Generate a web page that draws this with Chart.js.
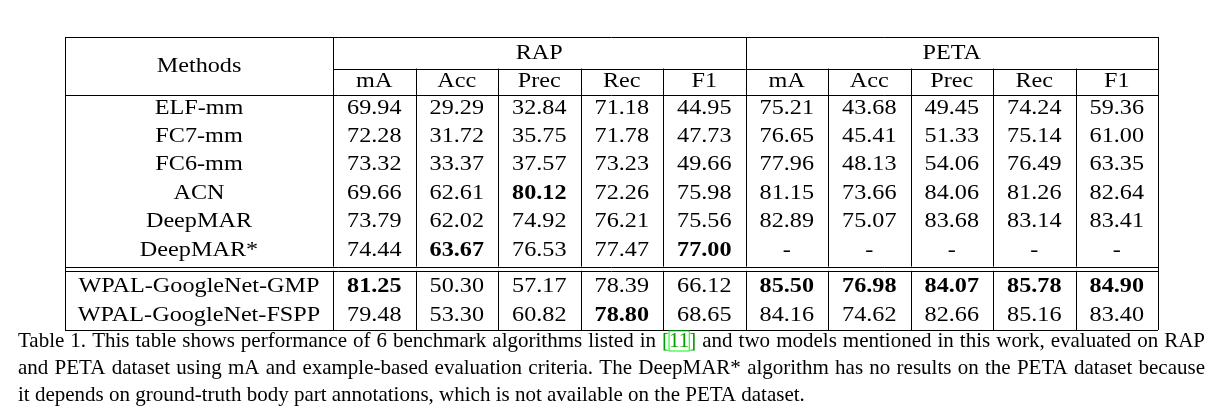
<!DOCTYPE html>
<html>
<head>
<meta charset="utf-8">
<script src="https://cdn.jsdelivr.net/npm/chart.js@4"></script>
<style>
  html, body { margin: 0; padding: 0; background: #fff; }
  #wrap { width: 1223px; height: 414px; }
</style>
</head>
<body>
<div id="wrap"><canvas id="tbl"></canvas></div>
<script>
// table data
const groups = ['RAP', 'PETA'];
const metrics = ['mA', 'Acc', 'Prec', 'Rec', 'F1'];
const methods = ['ELF-mm', 'FC7-mm', 'FC6-mm', 'ACN', 'DeepMAR', 'DeepMAR*', 'WPAL-GoogleNet-GMP', 'WPAL-GoogleNet-FSPP'];
const rapValues = [
  ['69.94', '29.29', '32.84', '71.18', '44.95'],
  ['72.28', '31.72', '35.75', '71.78', '47.73'],
  ['73.32', '33.37', '37.57', '73.23', '49.66'],
  ['69.66', '62.61', '80.12', '72.26', '75.98'],
  ['73.79', '62.02', '74.92', '76.21', '75.56'],
  ['74.44', '63.67', '76.53', '77.47', '77.00'],
  ['81.25', '50.30', '57.17', '78.39', '66.12'],
  ['79.48', '53.30', '60.82', '78.80', '68.65']
];
const petaValues = [
  ['75.21', '43.68', '49.45', '74.24', '59.36'],
  ['76.65', '45.41', '51.33', '75.14', '61.00'],
  ['77.96', '48.13', '54.06', '76.49', '63.35'],
  ['81.15', '73.66', '84.06', '81.26', '82.64'],
  ['82.89', '75.07', '83.68', '83.14', '83.41'],
  ['-', '-', '-', '-', '-'],
  ['85.50', '76.98', '84.07', '85.78', '84.90'],
  ['84.16', '74.62', '82.66', '85.16', '83.40']
];
// bold cells as "row,col" (col 0-9 over RAP then PETA)
const boldCells = ['3,2', '5,1', '5,4', '6,0', '6,5', '6,6', '6,7', '6,8', '6,9', '7,3'];
const captionLines = [
  'Table 1. This table shows performance of 6 benchmark algorithms listed in [11] and two models mentioned in this work, evaluated on RAP',
  'and PETA dataset using mA and example-based evaluation criteria. The DeepMAR* algorithm has no results on the PETA dataset because',
  'it depends on ground-truth body part annotations, which is not available on the PETA dataset.'
];

const columns = [];
groups.forEach(g => metrics.forEach(m => columns.push(g + ' ' + m)));
// row positions on the y scale (data rows, with a gap for the double rule)
const rowPos = [0, 1, 1.98, 2.99, 3.98, 4.99, 6.25, 7.27];

const FONT = '"Liberation Serif", "DejaVu Serif", serif';
const SX = 1.1; // the table text is a bit stretched sideways

const tablePlugin = {
  id: 'tableDraw',
  afterDraw(chart) {
    const ctx = chart.ctx;
    const x = chart.scales.x, y = chart.scales.y;
    const left = 65, right = chart.chartArea.right, mid = chart.chartArea.left;
    const colW = (x.getPixelForValue(1) - x.getPixelForValue(0));
    const yp = v => y.getPixelForValue(v);
    ctx.save();
    ctx.strokeStyle = '#000';
    ctx.lineWidth = 1;
    const hline = (v, x0, x1) => {
      const py = Math.round(yp(v)) + 0.5;
      ctx.beginPath(); ctx.moveTo(x0, py); ctx.lineTo(x1, py); ctx.stroke();
    };
    const vline = (px, v0, v1) => {
      px = Math.round(px) + 0.5;
      ctx.beginPath(); ctx.moveTo(px, yp(v0)); ctx.lineTo(px, yp(v1)); ctx.stroke();
    };
    const top = -2.5, bot = 7.8;
    hline(top, left, right);
    hline(-1.39, mid, right);
    hline(-0.45, left, right);
    hline(5.57, left, right);
    hline(5.72, left, right);
    hline(bot, left, right);
    vline(left, top, bot);
    vline(right, top, bot);
    vline(mid, top, 5.57);
    vline(mid, 5.72, bot);
    for (let i = 1; i < columns.length; i++) {
      const px = x.getPixelForValue(i) - colW / 2;
      const from = (i === 5) ? top : -1.39;
      vline(px, from, 5.57);
      vline(px, 5.72, bot);
    }

    ctx.fillStyle = '#000';
    ctx.textAlign = 'center';
    ctx.textBaseline = 'middle';
    const txt = (s, px, py, bold) => {
      ctx.save();
      ctx.font = (bold ? 'bold ' : '') + '22px ' + FONT;
      ctx.translate(px, py);
      ctx.scale(SX, 1);
      ctx.fillText(s, 0, 0);
      ctx.restore();
    };
    // headers
    txt('Methods', (left + mid) / 2, yp(-1.47));
    txt(groups[0], x.getPixelForValue(2), yp(-1.92));
    txt(groups[1], x.getPixelForValue(7), yp(-1.92));
    columns.forEach((c, i) => txt(metrics[i % 5], x.getPixelForValue(i), yp(-0.93)));
    // rows
    methods.forEach((m, r) => {
      const py = yp(rowPos[r]);
      txt(m, (left + mid) / 2, py);
      const vals = rapValues[r].concat(petaValues[r]);
      vals.forEach((v, c) => txt(v, x.getPixelForValue(c), py, boldCells.includes(r + ',' + c)));
    });
    // caption, first two lines justified
    ctx.textAlign = 'left';
    ctx.font = '21px ' + FONT;
    const capY = [341, 368, 395];
    const capL = 18, capR = 1205;
    captionLines.forEach((line, i) => {
      const words = line.split(' ');
      const spaceW = ctx.measureText(' ').width;
      let total = 0;
      words.forEach(w => total += ctx.measureText(w).width);
      let gap = spaceW;
      if (i < captionLines.length - 1) gap = (capR - capL - total) / (words.length - 1);
      let px = capL;
      words.forEach(w => {
        const ww = ctx.measureText(w).width;
        if (w === '[11]') {
          ctx.fillStyle = '#00a000';
          ctx.fillText(w, px, capY[i]);
          ctx.strokeStyle = '#00ff00';
          ctx.strokeRect(px + 7, capY[i] - 10, ww - 14, 20);
        } else {
          ctx.fillStyle = '#000';
          ctx.fillText(w, px, capY[i]);
        }
        px += ww + gap;
      });
    });
    ctx.restore();
  }
};

const points = [];
methods.forEach((m, r) => columns.forEach((c, i) => points.push({ x: c, y: rowPos[r] })));

new Chart(document.getElementById('tbl'), {
  type: 'scatter',
  data: { datasets: [{ data: points, pointRadius: 0, showLine: false }] },
  options: {
    responsive: true,
    maintainAspectRatio: false,
    animation: false,
    layout: { padding: { left: 333, right: 65, top: 37, bottom: 84 } },
    plugins: { legend: { display: false }, tooltip: { enabled: false } },
    scales: {
      x: { type: 'category', labels: columns, offset: true, display: false },
      y: { type: 'linear', reverse: true, min: -2.5, max: 7.8, display: false }
    }
  },
  plugins: [tablePlugin]
});
</script>
</body>
</html>
